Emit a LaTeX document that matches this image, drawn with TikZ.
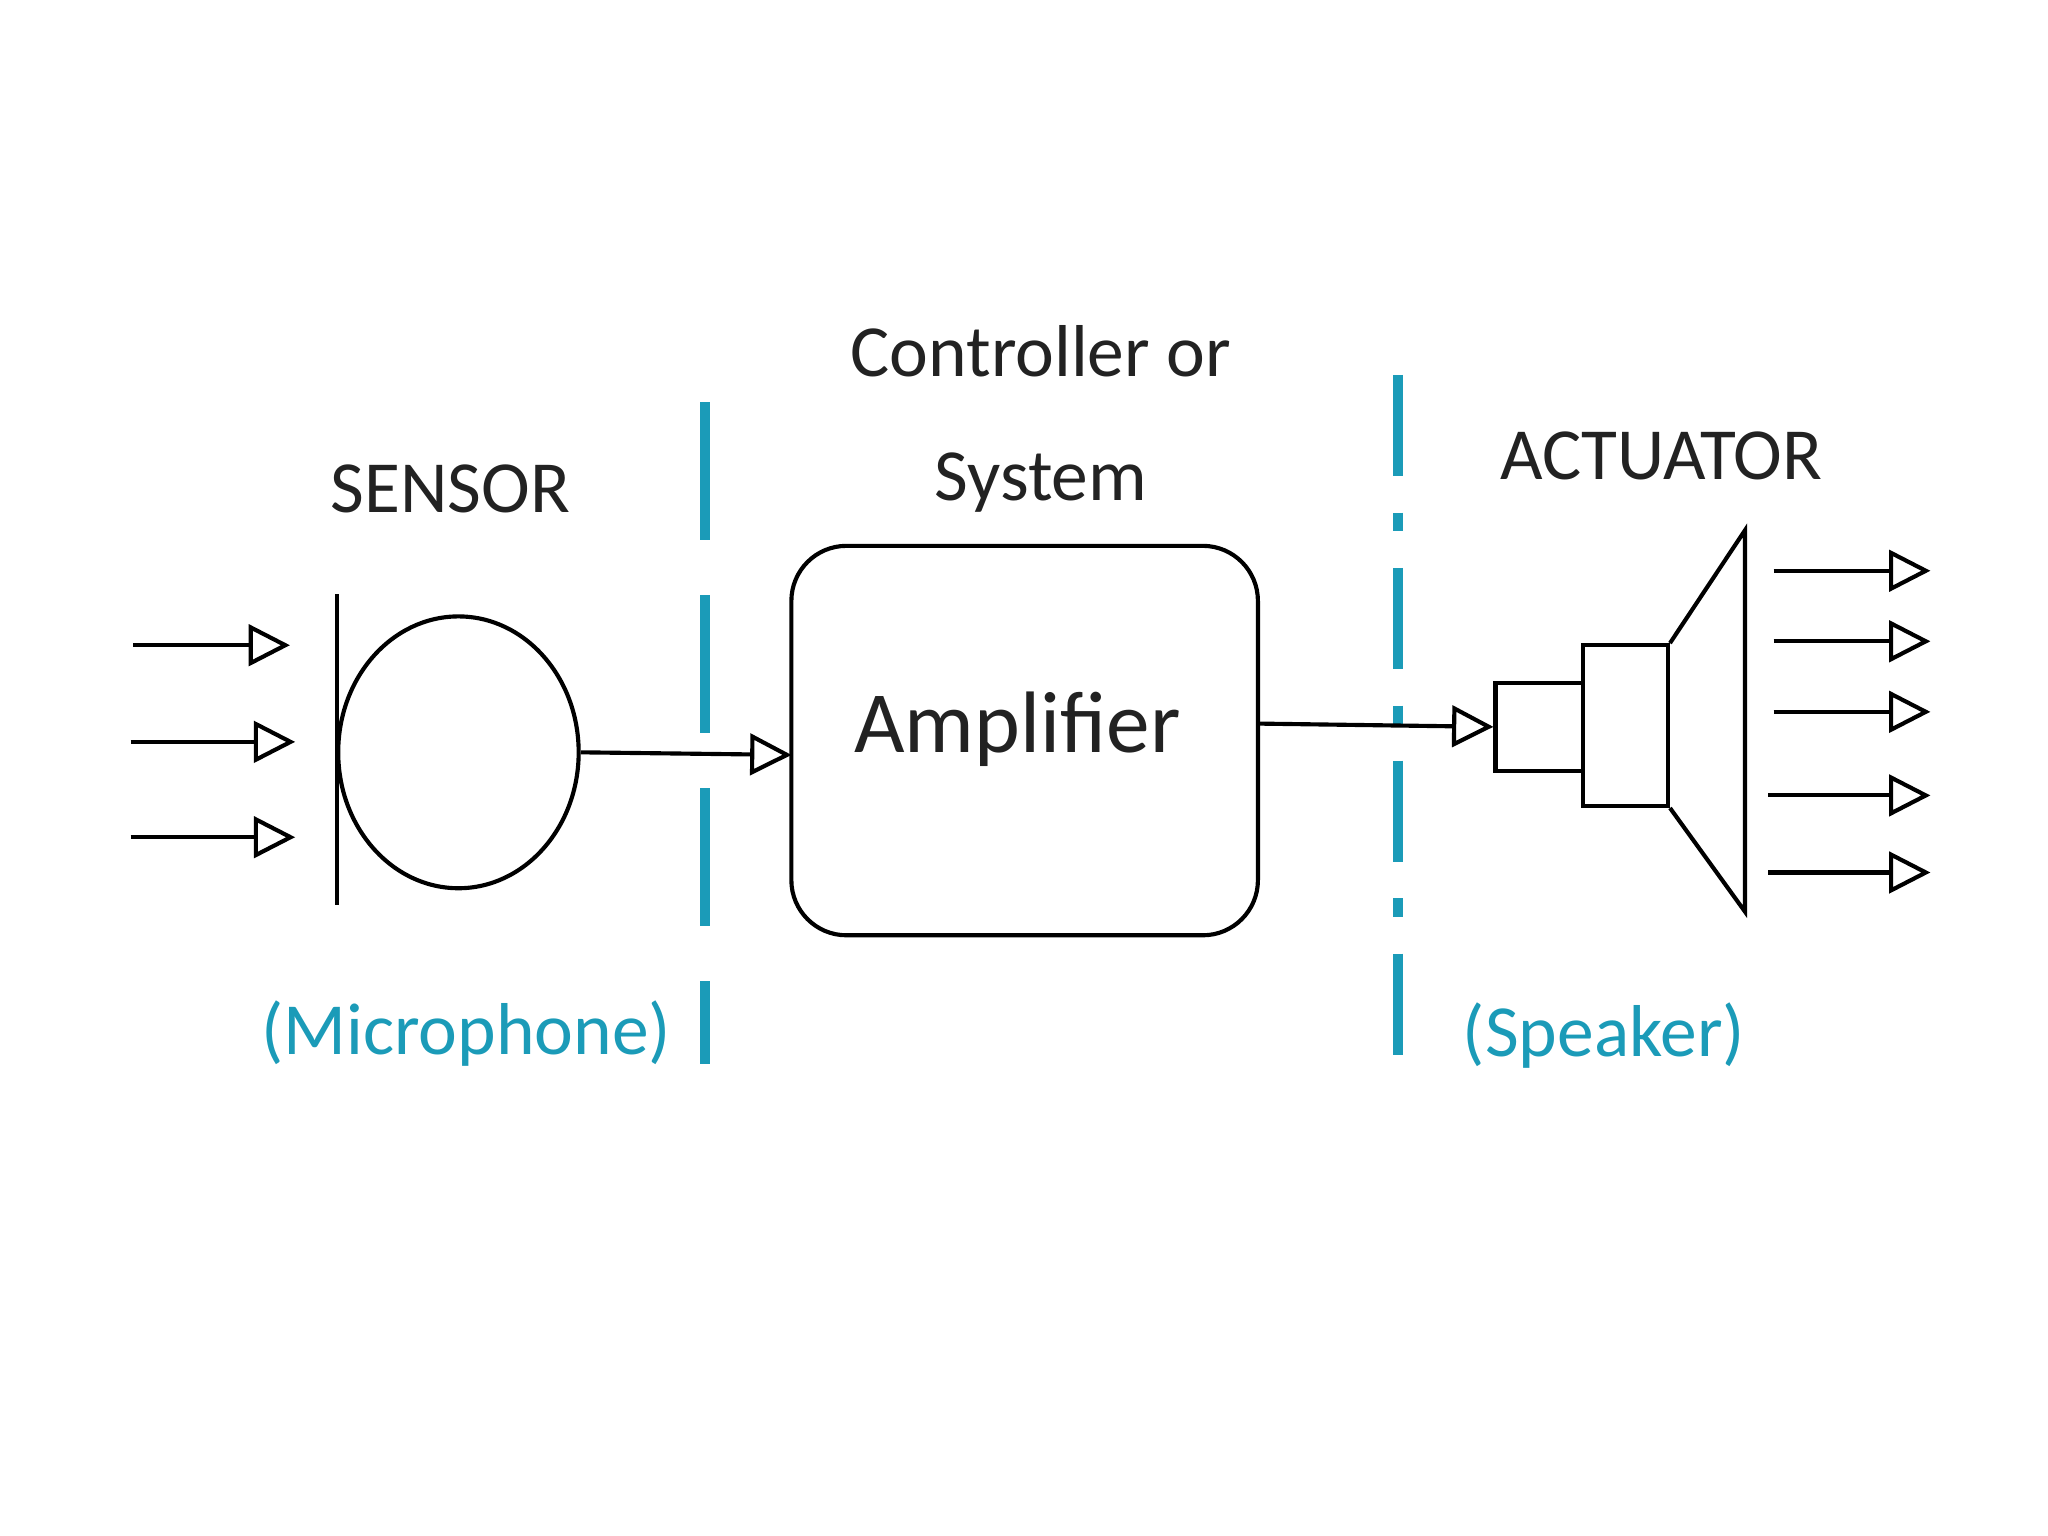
\documentclass[tikz,border=0pt]{standalone}
\usepackage{fontspec}
\setmainfont{Carlito}
\usetikzlibrary{arrows.meta,shapes.geometric}
\definecolor{cy}{HTML}{1B9BB8}
\definecolor{tx}{HTML}{222222}
\begin{document}
\begin{tikzpicture}[x=0.01cm,y=-0.01cm,
  arr/.style={line width=0.9pt,-{Triangle[open,length=9pt,width=9pt]}},
  ln/.style={line width=0.9pt},
  sep/.style={cy,line width=2.2pt},
  lab/.style={text=tx,font=\fontsize{16}{19}\selectfont,align=center},
  clab/.style={text=cy,font=\fontsize{16}{19}\selectfont}]
\useasboundingbox (0,0) rectangle (1568,1176);
% inputs
\foreach \i/\y/\a/\b in {1/494/102/222,2/568/100/226,3/641/100/226}{
  \coordinate (is\i) at (\a,\y); \coordinate (ie\i) at (\b,\y);
  \draw[arr] (is\i) -- (ie\i);}
\coordinate (pt) at (258,455); \coordinate (pb) at (258,693);
\draw[ln] (pt) -- (pb);
\node[draw,ln,ellipse,minimum width=1.84cm,minimum height=2.08cm,inner sep=0pt] (mic) at (351,576) {};
% separators
\coordinate (s1t) at (540,308); \coordinate (s1b) at (540,815);
\draw[sep,dash pattern=on 30pt off 12pt] (s1t) -- (s1b);
\coordinate (s2t) at (1070,287); \coordinate (s2b) at (1070,812);
\draw[sep,dash pattern=on 22pt off 8pt on 4pt off 8pt] (s2t) -- (s2b);
% amplifier
\node[draw,ln,rounded corners=12pt,minimum width=3.57cm,minimum height=2.98cm,inner sep=0pt] (amp) at (784.5,567) {};
\node[text=tx,font=\fontsize{19}{22}\selectfont] (ampl) at (779,558) {Amplifier};
\coordinate (ampin) at (606,578);
\draw[arr] (mic.east) -- (ampin);
% speaker
\node[draw,ln,minimum width=0.67cm,minimum height=0.67cm,inner sep=0pt] (coil) at (1178.5,556.5) {};
\node[draw,ln,minimum width=0.65cm,minimum height=1.23cm,inner sep=0pt] (mag) at (1244.5,555.5) {};
\coordinate (c1) at (1336,406); \coordinate (c2) at (1336,698);
\draw[ln] (mag.north east) -- (c1) -- (c2) -- (mag.south east);
\coordinate (ampout) at (963,554);
\draw[arr] (ampout) -- (coil.west);
% outputs
\foreach \i/\y/\a in {1/437/1358,2/491/1358,3/545/1358,4/609/1354,5/668/1354}{
  \coordinate (os\i) at (\a,\y); \coordinate (oe\i) at (1478,\y);
  \draw[arr] (os\i) -- (oe\i);}
% labels
\node[lab] (ctl) at (797,321) {Controller or\\[8pt]System};
\node[lab] (sen) at (345,374) {SENSOR};
\node[lab] (act) at (1272,349) {ACTUATOR};
\node[clab] (micl) at (357,791) {(Microphone)};
\node[clab] (spkl) at (1228,793) {(Speaker)};
\end{tikzpicture}
\end{document}
